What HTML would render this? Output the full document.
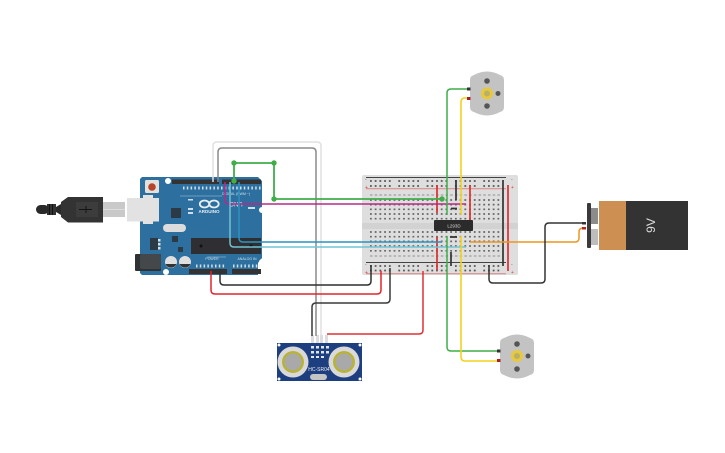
<!DOCTYPE html>
<html><head><meta charset="utf-8">
<style>html,body{margin:0;padding:0;background:#fff;width:725px;height:453px;overflow:hidden}svg{display:block}text{font-family:"Liberation Sans",sans-serif}</style>
</head><body>
<svg width="725" height="453" viewBox="0 0 725 453" xmlns="http://www.w3.org/2000/svg">
<!-- USB cable -->
<path d="M103 197H68L61 202V217L68 222.500H103Z" fill="#333"/>
<rect x="76" y="202" width="22" height="15" fill="#3c3c3c"/>
<path d="M79 209.500H92M86 206V213" stroke="#151515" stroke-width="1"/>
<path d="M61 204L56 207V212L61 215Z" fill="#2a2a2a"/>
<rect x="47" y="204" width="9" height="11" fill="#333"/><rect x="49" y="204" width="1" height="11" fill="#111"/><rect x="52" y="204" width="1" height="11" fill="#111"/>
<rect x="36" y="205" width="13" height="9" rx="4.500" fill="#2a2a2a"/>
<rect x="103" y="202" width="22" height="15" fill="#c9c9c9"/>
<rect x="103" y="209" width="22" height="1" fill="#ddd"/>
<!-- Arduino -->
<path d="M142 177H258L262 181V258L258 263V275H142L140 273V179Z" fill="#2d6f9f"/>
<rect x="127" y="198" width="32" height="23.500" fill="#e2e2e2"/>
<rect x="143" y="195" width="10" height="4" fill="#e2e2e2"/><rect x="143" y="220" width="10" height="4" fill="#e2e2e2"/>
<rect x="145" y="180" width="14" height="13" rx="1.500" fill="#e4e0dc"/><circle cx="152" cy="187" r="3.800" fill="#b5452a"/>
<circle cx="168" cy="181" r="3" fill="#fff"/><circle cx="262" cy="210" r="3" fill="#fff"/><circle cx="262" cy="262" r="3" fill="#fff"/><circle cx="166" cy="272" r="3" fill="#fff"/>
<rect x="171" y="208" width="10" height="10" fill="#2b3a44"/>
<rect x="163" y="224" width="23" height="8" rx="4" fill="#dcdcdc"/>
<rect x="172" y="236" width="6" height="6" fill="#2b3a44"/>
<rect x="178" y="247" width="5" height="5" fill="#2b3a44"/>
<rect x="150" y="238" width="8" height="12" fill="#2b3a44"/><rect x="158" y="239" width="2.500" height="2.500" fill="#ddd"/><rect x="158" y="243" width="2.500" height="2.500" fill="#ddd"/><rect x="158" y="247" width="2.500" height="2.500" fill="#ddd"/>
<rect x="135" y="254" width="26" height="17" rx="1" fill="#2f3235"/><rect x="140" y="254" width="21" height="15" rx="2" fill="#45484a"/>
<circle cx="171" cy="262" r="6" fill="#dfdfdf"/><path d="M165.500 264A6 6 0 0 0 176.500 264Z" fill="#333"/>
<circle cx="185" cy="262" r="6" fill="#dfdfdf"/><path d="M179.500 264A6 6 0 0 0 190.500 264Z" fill="#333"/>
<rect x="191" y="238" width="70" height="16" fill="#2f2f33"/>
<circle cx="201" cy="246" r="1.500" fill="#111"/><circle cx="251" cy="246" r="1.500" fill="#111"/>
<rect x="172" y="179.500" width="47" height="4.500" fill="#333"/>
<rect x="222" y="179.500" width="39" height="4.500" fill="#333"/>
<rect x="189" y="269" width="38" height="5" fill="#333"/><rect x="232" y="269" width="29" height="5" fill="#333"/>
<g fill="none" stroke="#e8eef2" stroke-width="1.800"><ellipse cx="204.500" cy="204" rx="4.700" ry="3.500"/><ellipse cx="214" cy="204" rx="4.700" ry="3.500"/></g>
<text x="209" y="213" font-size="4.500" font-weight="bold" fill="#e8eef2" text-anchor="middle">ARDUINO</text>
<text x="236" y="206" font-size="6" fill="#e8eef2" transform="rotate(180 236 204)" text-anchor="middle">UNO</text>
<text x="236" y="195" font-size="3.500" fill="#cfe0ea" text-anchor="middle">DIGITAL (PWM ~)</text>
<text x="212" y="260" font-size="3.500" fill="#cfe0ea" text-anchor="middle">POWER</text>
<text x="247" y="260" font-size="3.500" fill="#cfe0ea" text-anchor="middle">ANALOG IN</text>
<g stroke="#cfe0ea" stroke-width="3" stroke-dasharray="1.500 2.300"><path d="M183 188H262"/><path d="M196 266H226M233 266H260"/></g>
<path d="M180 196H222M207 257H226" stroke="#cfe0ea" stroke-width=".4"/>
<g fill="#cfe0ea"><rect x="188" y="199" width="5" height="1.500"/><rect x="188" y="208" width="5" height="2"/><rect x="188" y="212" width="5" height="2"/><rect x="248" y="207" width="7" height="2"/></g>
<!-- Breadboard -->
<rect x="362" y="175" width="156" height="100" rx="2" fill="#dedede"/>
<rect x="362" y="223" width="156" height="6" fill="#d2d2d2"/>
<rect x="366" y="177" width="140" height="1" fill="#444"/>
<rect x="366" y="188" width="140" height="1.300" fill="#d99a9a"/>
<rect x="366" y="262" width="140" height="1" fill="#444"/>
<rect x="366" y="273" width="140" height="1.300" fill="#d99a9a"/>
<g fill="none" stroke="#666" stroke-width="1.700" stroke-dasharray="1.800 2.920">
<path d="M370 200H502M370 204.600H502M370 209.300H502M370 214H502M370 218.700H502"/>
<path d="M370 232H502M370 236.700H502M370 241.400H502M370 246H502M370 250.800H502"/>
</g>
<g fill="none" stroke="#555" stroke-width="1.700" stroke-dasharray="1.800 2.920 1.800 2.920 1.800 2.920 1.800 2.920 1.800 7.640">
<path d="M370 181H502M370 186H502M370 266H502M370 270.500H502"/>
</g>
<path d="M370 195H502M370 256H502" fill="none" stroke="#a8a8a8" stroke-width="1.400" stroke-dasharray="2.500 2.220"/>
<g font-size="5" fill="#666"><text x="365" y="181">-</text><text x="365" y="189" fill="#c44">+</text><text x="511" y="181">-</text><text x="511" y="189" fill="#c44">+</text><text x="365" y="266">-</text><text x="365" y="274" fill="#c44">+</text><text x="511" y="266">-</text><text x="511" y="274" fill="#c44">+</text></g>
<!-- Breadboard wires -->
<g fill="none" stroke-width="1.700">
<path d="M437 185V213M437 237V270M470 185V222M508 185V271" stroke="#d9302e"/>
<path d="M456 180V200M503 180V266M451 252V266M451 208.500H457M450 237H457" stroke="#333"/>
</g>
<!-- IC -->
<rect x="434" y="220" width="39" height="11" rx="1" fill="#2b2b2b"/>
<text x="454" y="227.500" font-size="4.500" fill="#ddd" text-anchor="middle">L293D</text>
<!-- Motors -->
<path d="M470 80Q470 76 474 75Q487 68 500 75Q504 76 504 80V107Q504 111 500 112Q487 119 474 112Q470 111 470 107Z" fill="#c3c3c3"/>
<circle cx="487" cy="81" r="2.800" fill="#555"/><circle cx="487" cy="106" r="2.800" fill="#555"/><circle cx="498" cy="93.500" r="2.500" fill="#555"/>
<circle cx="487" cy="93.500" r="5.500" fill="#e8c93a" stroke="#e8c93a" stroke-width="1.500" stroke-dasharray="2 1"/><circle cx="487" cy="93.500" r="3" fill="#b9b06a"/>
<path d="M500 343Q500 339 504 338Q517 331 530 338Q534 339 534 343V370Q534 374 530 375Q517 382 504 375Q500 374 500 370Z" fill="#c3c3c3"/>
<circle cx="517" cy="344" r="2.800" fill="#555"/><circle cx="517" cy="369" r="2.800" fill="#555"/><circle cx="528" cy="356" r="2.500" fill="#555"/>
<circle cx="517" cy="356" r="5.500" fill="#e8c93a" stroke="#e8c93a" stroke-width="1.500" stroke-dasharray="2 1"/><circle cx="517" cy="356" r="3" fill="#b9b06a"/>
<!-- Battery -->
<rect x="587" y="203" width="4" height="45" rx="1" fill="#3a3a3a"/>
<rect x="591" y="208" width="7" height="16" fill="#8c8c8c"/><rect x="591" y="229" width="7" height="16" fill="#bdbdbd"/>
<rect x="599" y="201" width="27" height="49" fill="#cd8f52"/>
<rect x="626" y="201" width="62" height="49" fill="#333"/>
<text x="652" y="225.500" font-size="12" fill="#ddd" text-anchor="middle" dominant-baseline="middle" transform="rotate(-90 652 225.500)">9V</text>
<!-- Sensor -->
<rect x="277" y="343" width="85" height="38" fill="#1d3f7f"/>
<g fill="#fff"><circle cx="279" cy="345" r="1.500"/><circle cx="360" cy="345" r="1.500"/><circle cx="279" cy="379" r="1.500"/><circle cx="360" cy="379" r="1.500"/></g>
<circle cx="293" cy="362" r="15.500" fill="#d9d9d9"/><circle cx="293" cy="362" r="11" fill="#b8b336"/><circle cx="293" cy="362" r="8.500" fill="#a9a9a9"/>
<circle cx="344" cy="362" r="15.500" fill="#d9d9d9"/><circle cx="344" cy="362" r="11" fill="#b8b336"/><circle cx="344" cy="362" r="8.500" fill="#a9a9a9"/>
<rect x="310" y="374" width="17" height="6" rx="3" fill="#c4c4c4"/>
<text x="319" y="371" font-size="5" fill="#eee" text-anchor="middle">HC-SR04</text>
<g fill="#dfe5ee"><rect x="311" y="346" width="3" height="2.500"/><rect x="316" y="346" width="3" height="2.500"/><rect x="321" y="346" width="3" height="2.500"/><rect x="326" y="346" width="3" height="2.500"/><rect x="311" y="351" width="3" height="2.500"/><rect x="316" y="351" width="3" height="2.500"/><rect x="321" y="351" width="3" height="2.500"/><rect x="326" y="351" width="3" height="2.500"/><rect x="311" y="356" width="3" height="2"/><rect x="316" y="356" width="3" height="2"/><rect x="321" y="356" width="3" height="2"/></g>
<rect x="311" y="335" width="3" height="8" fill="#ddd"/><rect x="316" y="335" width="3" height="8" fill="#ddd"/><rect x="320" y="335" width="3" height="8" fill="#ddd"/><rect x="325" y="335" width="3" height="8" fill="#ddd"/>
<!-- Wires -->
<g fill="none" stroke-linejoin="round">
<path d="M213 182V146Q213 142 217 142H317Q321 142 321 146V336" stroke="#e0e0e0" stroke-width="1.500"/>
<path d="M218 182V152Q218 148 222 148H312Q316 148 316 152V336" stroke="#8a8a8a" stroke-width="1.500"/>
<path d="M312 336V307Q312 303 316 303H386Q390 303 390 299V268" stroke="#3a3a3a" stroke-width="1.500"/>
<path d="M211 271V290Q211 294 215 294H377Q381 294 381 290V271" stroke="#e0252b" stroke-width="1.500"/>
<path d="M220 271V281Q220 285 224 285H367Q371 285 371 281V265" stroke="#2f2f2f" stroke-width="1.500"/>
<path d="M327 334H419Q423 334 423 330V271" stroke="#df3035" stroke-width="1.500"/>
<path d="M225 182V200Q225 204 229 204H466" stroke="#b9288a" stroke-width="1.500"/>
<path d="M239 182V238Q239 242 243 242H442" stroke="#2b93bf" stroke-width="1.500"/>
<path d="M230 182V243Q230 247 234 247H466" stroke="#72c3d3" stroke-width="1.500"/>
<path d="M234 181V163H274V199H442" stroke="#3fae49" stroke-width="1.800"/>
<path d="M469 89H451Q447 89 447 93V215M447 236V347Q447 351 451 351H499" stroke="#3fae49" stroke-width="1.500"/>
<path d="M469 98H465Q461 98 461 102V215M461 236V357Q461 361 465 361H499" stroke="#f2d21b" stroke-width="1.600"/>
<path d="M470 242H575Q579 242 579 238V232Q579 228 583 228H585" stroke="#ee951f" stroke-width="1.500"/>
<path d="M489 265V279Q489 283 493 283H541Q545 283 545 279V227Q545 223 549 223H585" stroke="#333" stroke-width="1.500"/>
</g>
<rect x="467" y="87.500" width="3.500" height="3" fill="#333"/><rect x="467" y="97" width="3.500" height="3" fill="#a82020"/>
<rect x="497" y="349.500" width="3.500" height="3" fill="#333"/><rect x="497" y="359" width="3.500" height="3" fill="#a82020"/>
<rect x="582" y="222" width="4" height="2.500" fill="#333"/><rect x="582" y="227" width="4" height="2.500" fill="#b22"/>
<g fill="#3fae49"><circle cx="234" cy="163" r="2.700"/><circle cx="274" cy="163" r="2.700"/><circle cx="274" cy="199" r="2.700"/><circle cx="234" cy="181" r="2.700"/><circle cx="442" cy="199" r="2.700"/></g>
</svg>
</body></html>
